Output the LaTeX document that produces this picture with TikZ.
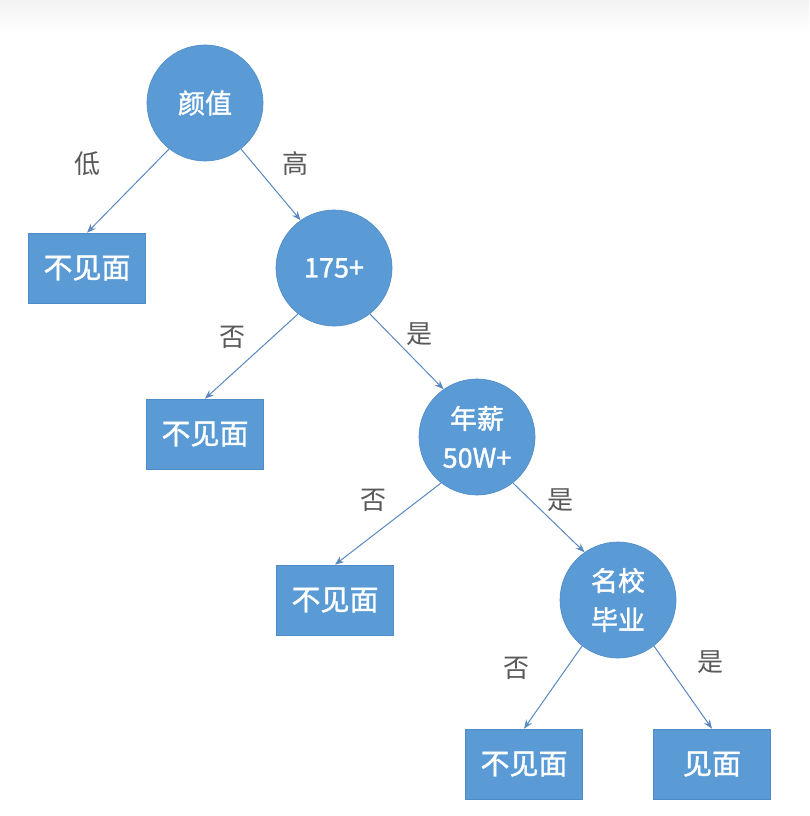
\documentclass[tikz,border=0pt]{standalone}
\usepackage{fontspec}
\setmainfont{Noto Sans CJK SC}
\newfontfamily\nodefont[FakeBold=1.3]{Noto Sans CJK SC}
\usetikzlibrary{arrows.meta,shapes.geometric}
\definecolor{nodeblue}{HTML}{5B9BD5}
\definecolor{edgeblue}{HTML}{4F8BC6}
\definecolor{arrowblue}{HTML}{5A88C0}
\definecolor{labelgray}{HTML}{595959}
\tikzset{
  decision/.style={circle, fill=nodeblue, draw=edgeblue, line width=0.6pt, minimum size=116pt, inner sep=0pt, text=white, font=\nodefont\fontsize{27}{39}\selectfont, align=center},
  leaf/.style={rectangle, fill=nodeblue, draw=edgeblue, line width=0.6pt, minimum width=117pt, minimum height=70pt, inner sep=0pt, text=white, font=\nodefont\fontsize{29}{32}\selectfont},
  conn/.style={draw=arrowblue, line width=1pt, -{Stealth[length=9pt,width=7pt]}},
  lbl/.style={text=labelgray, font=\fontsize{26}{29}\selectfont}
}
\begin{document}
\begin{tikzpicture}[x=1pt,y=-1pt]
\useasboundingbox (0,0) rectangle (809,816);
\fill[white] (0,0) rectangle (809,816);
\shade[top color=black!5, bottom color=white] (0,0) rectangle (809,32);
% decision nodes
\node[decision] (c1) at (205,103) {颜值};
\node[decision] (c2) at (334,268) {175+};
\node[decision] (c3) at (477,437) {年薪\\50W+};
\node[decision] (c4) at (618,600) {名校\\毕业};
% leaves
\node[leaf] (b1) at (87,268) {不见面};
\node[leaf] (b2) at (205,434) {不见面};
\node[leaf] (b3) at (335,600) {不见面};
\node[leaf] (b4) at (524,764) {不见面};
\node[leaf] (b5) at (712,764) {见面};
% connectors
\draw[conn] (c1.-128) -- (b1.north);
\draw[conn] (c1.-52) -- (c2.125);
\draw[conn] (c2.-128) -- (b2.north);
\draw[conn] (c2.-52) -- (c3.125);
\draw[conn] (c3.-128) -- (b3.north);
\draw[conn] (c3.-52) -- (c4.125);
\draw[conn] (c4.-128) -- (b4.north);
\draw[conn] (c4.-52) -- (b5.north);
% labels
\node[lbl] (l1) at (87,164) {低};
\node[lbl] (l2) at (295,164) {高};
\node[lbl] (l3) at (232,337) {否};
\node[lbl] (l4) at (419,334) {是};
\node[lbl] (l5) at (373,500) {否};
\node[lbl] (l6) at (560,500) {是};
\node[lbl] (l7) at (516,668) {否};
\node[lbl] (l8) at (710,662) {是};
\end{tikzpicture}
\end{document}
